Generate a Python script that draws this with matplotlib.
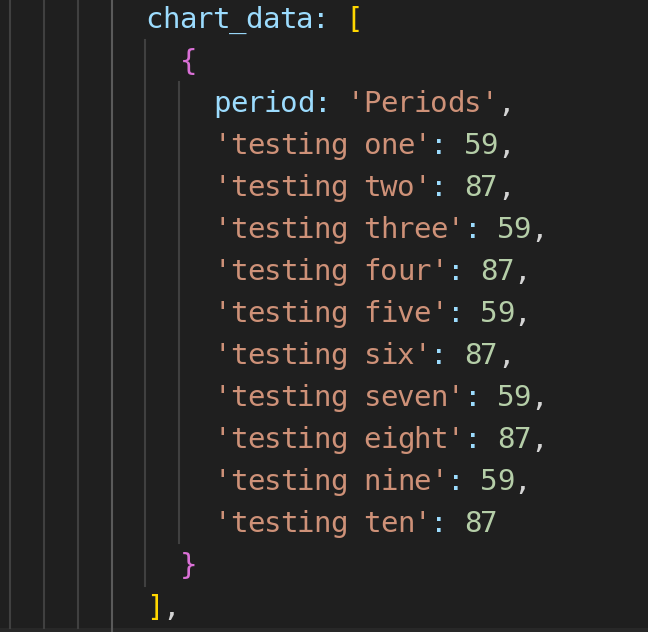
import matplotlib.pyplot as plt

# === Data shown in the editor ===
object_name = "chart_data"
period_key = "period"
period_label = "Periods"
series_names = ["testing one", "testing two", "testing three", "testing four",
                "testing five", "testing six", "testing seven", "testing eight",
                "testing nine", "testing ten"]
series_values = [59, 87, 59, 87, 59, 87, 59, 87, 59, 87]

# === VS Code dark theme colours ===
BG = "#1f1f1f"
C_PROP = "#9cdcfe"
C_STR = "#ce9178"
C_NUM = "#b5cea8"
C_PUNC = "#d4d4d4"
C_BRACKET = "#ffd700"
C_BRACE = "#da70d6"
C_GUIDE = "#404040"

W, H = 648, 632
fig = plt.figure(figsize=(W / 100, H / 100), dpi=100, facecolor=BG)
ax = fig.add_axes([0, 0, 1, 1])
ax.set_xlim(0, W)
ax.set_ylim(H, 0)
ax.set_facecolor(BG)
ax.axis("off")

CHAR_W = 16.67
LINE_H = 42
FIRST_BASE = 28
FONT = dict(family="DejaVu Sans Mono", fontsize=21, va="baseline", ha="center")


def put_line(row, x0, tokens):
    # one glyph per cell so the grid stays fixed whatever the font size
    col = 0
    y = FIRST_BASE + row * LINE_H
    for txt, color in tokens:
        for ch in txt:
            if ch != " ":
                ax.text(x0 + (col + 0.5) * CHAR_W, y, ch, color=color, **FONT)
            col += 1


# status strip at the bottom
ax.axhspan(628, H, color="#282828", lw=0)

# indent guides
for gx in [10, 44, 78]:
    ax.plot([gx, gx], [0, 628], color=C_GUIDE, lw=1.5)
ax.plot([112, 112], [0, H], color="#5a5a5a", lw=1.5)
ax.plot([145, 145], [40, 586], color=C_GUIDE, lw=1.5)
ax.plot([179, 179], [82, 543], color=C_GUIDE, lw=1.5)

put_line(0, 146, [(object_name, C_PROP), (":", C_PROP), (" ", C_PUNC), ("[", C_BRACKET)])
put_line(1, 180, [("{", C_BRACE)])
put_line(2, 214, [(period_key, C_PROP), (":", C_PROP), (" ", C_PUNC),
                  (f"'{period_label}'", C_STR), (",", C_PUNC)])
for i, (name, val) in enumerate(zip(series_names, series_values)):
    toks = [(f"'{name}'", C_STR), (":", C_PROP), (" ", C_PUNC), (str(val), C_NUM)]
    if i < len(series_names) - 1:
        toks.append((",", C_PUNC))
    put_line(3 + i, 214, toks)
put_line(3 + len(series_names), 180, [("}", C_BRACE)])
put_line(4 + len(series_names), 146, [("]", C_BRACKET), (",", C_PUNC)])

fig.savefig("out.png", dpi=100, facecolor=BG)
